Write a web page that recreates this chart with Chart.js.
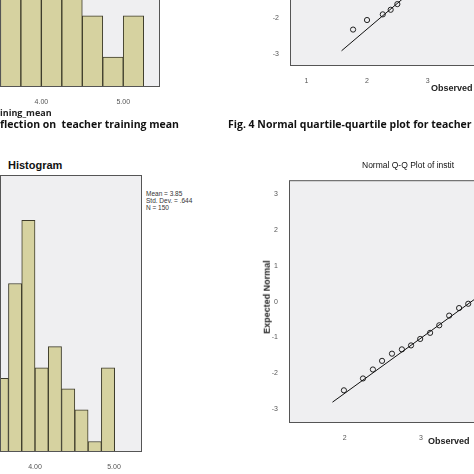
<!DOCTYPE html>
<html><head><meta charset="utf-8">
<script src="https://cdn.jsdelivr.net/npm/chart.js@4.4.0/dist/chart.umd.min.js"></script>
<style>
body{margin:0;width:474px;height:474px;overflow:hidden;background:#fff;position:relative;font-family:"Liberation Sans",Arial,sans-serif}
canvas{position:absolute}
.t{position:absolute;white-space:nowrap;color:#111}
.b{font-family:"Open Sans",sans-serif;font-weight:bold;font-size:10.5px}
</style></head><body>
<canvas id="histTop" style="left:0;top:-60px;width:160px;height:167px"></canvas>
<canvas id="qqTop" style="left:260px;top:-100px;width:260px;height:186px"></canvas>
<canvas id="histBottom" style="left:0;top:175px;width:142px;height:297px"></canvas>
<canvas id="qqBottom" style="left:259px;top:173px;width:260px;height:272px"></canvas>

<div class="t" style="left:0;top:106px;font-size:9px;font-weight:bold;font-family:'Open Sans',sans-serif;color:#222">ining_mean</div>
<div class="t b" style="left:0;top:117px">flection on&nbsp; teacher training mean</div>
<div class="t b" style="left:228px;top:117px">Fig. 4 Normal quartile-quartile plot for teacher t</div>
<div class="t" style="left:431px;top:83px;font-size:9px;font-weight:bold;color:#222">Observed</div>

<div class="t" style="left:8px;top:159px;font-size:11px;font-weight:bold">Histogram</div>
<div class="t" style="left:146px;top:190px;font-size:6.5px;line-height:7px;color:#333">Mean = 3.85<br>Std. Dev. = .644<br>N = 150</div>

<div class="t" style="left:362px;top:160px;font-size:8.5px">Normal Q-Q Plot of instit</div>
<div class="t" style="left:230px;top:292px;font-size:9px;font-weight:bold;transform:rotate(-90deg);color:#222">Expected Normal</div>
<div class="t" style="left:428px;top:436px;font-size:9px;font-weight:bold;color:#222">Observed</div>

<script>
// top histogram (partial)
var topBins = [3.375, 3.625, 3.875, 4.125, 4.375, 4.625, 4.875, 5.125];
var topCounts = [40, 40, 40, 40, 40, 14.5, 6.1, 14.5];
// top Q-Q (partial)
var topObs = [1.77, 2.0, 2.26, 2.39, 2.5];
var topExp = [-2.32, -2.05, -1.89, -1.76, -1.6];
var topLineX = [1.58, 3.0];
var topLineY = [-2.92, -0.85];
// bottom histogram
var binCenters = [3.412, 3.580, 3.748, 3.916, 4.084, 4.252, 4.420, 4.588, 4.756, 4.924];
var binCounts = [10, 7, 16, 22, 8, 10, 6, 4, 1, 8];
// bottom Q-Q
var observed = [1.99, 2.24, 2.37, 2.49, 2.62, 2.75, 2.87, 2.99, 3.12, 3.24, 3.37, 3.5, 3.62];
var expected = [-2.47, -2.14, -1.89, -1.65, -1.45, -1.33, -1.22, -1.04, -0.87, -0.66, -0.39, -0.18, -0.06];
var lineX = [1.84, 3.7];
var lineY = [-2.8, 0.06];

var panel = {
    id:'panel',
    beforeDraw:function(c){
        var a = c.chartArea, x = c.ctx;
        x.save();
        x.fillStyle = '#efeff1';
        x.fillRect(a.left, a.top, a.right-a.left, a.bottom-a.top);
        x.restore();
    },
    afterDraw:function(c){
        var a = c.chartArea, x = c.ctx;
        x.save();
        x.strokeStyle = '#555';
        x.lineWidth = 1;
        x.strokeRect(a.left+0.5, a.top+0.5, a.right-a.left-1, a.bottom-a.top-1);
        x.restore();
    }
};
Chart.defaults.font.family = '"Liberation Sans", Arial, sans-serif';
Chart.defaults.font.size = 7;
Chart.defaults.color = '#555';
Chart.defaults.animation = false;

function fixH(h){ return function(s){ s.height = h; }; }
function fixW(w){ return function(s){ s.width = w; }; }
function ints(s){
    var out = [];
    for(var v = Math.ceil(s.min); v <= Math.floor(s.max); v++) out.push({value:v});
    s.ticks = out;
}

function hist(id, centers, counts, xmin, xmax, ymax, axisH, ticks){
    return new Chart(document.getElementById(id), {
        type:'bar',
        plugins:[panel],
        data:{datasets:[{
            data:centers.map(function(c,i){ return {x:c, y:counts[i]}; }),
            backgroundColor:'#d6d2a0', borderColor:'#3d3b2a', borderWidth:1,
            barPercentage:1, categoryPercentage:1, grouped:false
        }]},
        options:{
            responsive:false, maintainAspectRatio:false,
            layout:{padding:0},
            plugins:{legend:{display:false}, tooltip:{enabled:false}},
            scales:{
                x:{type:'linear', min:xmin, max:xmax, offset:false,
                   grid:{display:false}, border:{display:false},
                   afterFit:fixH(axisH),
                   afterBuildTicks:function(s){ s.ticks = ticks.map(function(v){ return {value:v}; }); },
                   ticks:{callback:function(v){ return v.toFixed(2); }, maxRotation:0, minRotation:0}},
                y:{display:false, min:0, max:ymax}
            }
        }
    });
}

function qq(id, xs, ys, lx, ly, xmin, xmax, ymin, ymax, axisH){
    return new Chart(document.getElementById(id), {
        type:'scatter',
        plugins:[panel],
        data:{datasets:[
            {data:lx.map(function(v,i){ return {x:v, y:ly[i]}; }), showLine:true,
             borderColor:'#111', borderWidth:1, pointRadius:0},
            {data:xs.map(function(v,i){ return {x:v, y:ys[i]}; }),
             pointRadius:2.6, pointBackgroundColor:'rgba(255,255,255,0)', pointBorderColor:'#222', pointBorderWidth:1}
        ]},
        options:{
            responsive:false, maintainAspectRatio:false,
            layout:{padding:0},
            plugins:{legend:{display:false}, tooltip:{enabled:false}},
            scales:{
                x:{type:'linear', min:xmin, max:xmax, grid:{display:false}, border:{display:false},
                   afterFit:fixH(axisH), afterBuildTicks:ints,
                   ticks:{autoSkip:false, maxRotation:0, minRotation:0}},
                y:{type:'linear', min:ymin, max:ymax, grid:{display:false}, border:{display:false},
                   afterFit:fixW(30), afterBuildTicks:ints, ticks:{autoSkip:false}}
            }
        }
    });
}

hist('histTop', topBins, topCounts, 3.495, 5.449, 30, 20, [4, 5]);
qq('qqTop', topObs, topExp, topLineX, topLineY, 0.73, 4.44, -3.35, 1.14, 20);
hist('histBottom', binCenters, binCounts, 3.557, 5.354, 26.3, 20, [4, 5]);
qq('qqBottom', observed, expected, lineX, lineY, 1.27, 4.22, -3.38, 3.38, 22);
</script>
</body></html>
